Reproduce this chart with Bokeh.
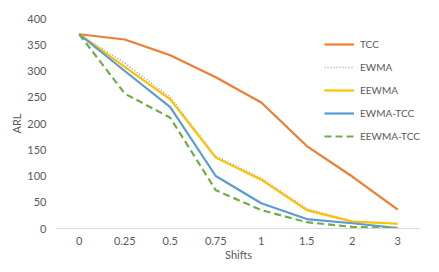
from bokeh.plotting import figure
from bokeh.models import FactorRange, Range1d, Legend, LegendItem, FixedTicker
from bokeh.embed import file_html
from bokeh.resources import INLINE

shifts = ["0", "0.25", "0.5", "0.75", "1", "1.5", "2", "3"]
tcc = [370, 360, 330, 288, 240, 157, 99, 36]
ewma = [370, 315, 250, 138, 96, 38, 14, 9]
eewma = [370, 308, 246, 135, 93, 35, 13, 9]
ewma_tcc = [370, 300, 231, 100, 48, 18, 10, 1]
eewma_tcc = [370, 257, 211, 73, 35, 12, 3, 1]

series = [
    ("TCC", tcc, "#ED7D31", "solid", 2.2),
    ("EWMA", ewma, "#A5A5A5", "1 2", 1.6),
    ("EEWMA", eewma, "#FFC000", "solid", 2.2),
    ("EWMA-TCC", ewma_tcc, "#5B9BD5", "solid", 2.2),
    ("EEWMA-TCC", eewma_tcc, "#70AD47", "7 4", 2.2),
]

FONT = "Lato"
GREY = "#595959"

p = figure(width=439, height=272, x_range=FactorRange(*shifts, range_padding=0),
           y_range=Range1d(0, 400), output_backend="svg", toolbar_location=None,
           min_border_left=56, min_border_right=19, min_border_top=18, min_border_bottom=44)
p.outline_line_color = None
p.grid.visible = False
p.background_fill_color = "white"
p.border_fill_color = "white"

items = []
for name, vals, color, dash, w in series:
    r = p.line(shifts, vals, line_color=color, line_dash=dash, line_width=w)
    items.append(LegendItem(label=name, renderers=[r]))

legend = Legend(items=items, location=(268, 82), padding=0, margin=0, spacing=3,
                glyph_width=30, glyph_height=20, label_height=20, label_standoff=6,
                label_text_font=FONT, label_text_font_size="10px", label_text_color=GREY,
                background_fill_alpha=0, border_line_color=None)
p.add_layout(legend)

p.yaxis.ticker = FixedTicker(ticks=[0, 50, 100, 150, 200, 250, 300, 350, 400])
p.yaxis.axis_line_color = None
p.yaxis.major_tick_line_color = None
p.yaxis.minor_tick_line_color = None
p.yaxis.major_tick_out = 0
p.yaxis.major_tick_in = 0
p.yaxis.minor_tick_out = 0
p.yaxis.major_label_text_font = FONT
p.yaxis.major_label_text_font_size = "11px"
p.yaxis.major_label_text_color = GREY
p.yaxis.major_label_standoff = 10
p.yaxis.axis_label = "ARL"
p.yaxis.axis_label_text_font = FONT
p.yaxis.axis_label_text_font_size = "11px"
p.yaxis.axis_label_text_font_style = "normal"
p.yaxis.axis_label_text_color = GREY
p.yaxis.axis_label_standoff = 1

p.xaxis.axis_line_color = "#D9D9D9"
p.xaxis.axis_line_width = 1
p.xaxis.major_tick_line_color = None
p.xaxis.minor_tick_line_color = None
p.xaxis.major_tick_out = 0
p.xaxis.major_tick_in = 0
p.xaxis.minor_tick_out = 0
p.xaxis.major_label_text_font = FONT
p.xaxis.major_label_text_font_size = "11px"
p.xaxis.major_label_text_color = GREY
p.xaxis.major_label_standoff = 8
p.xaxis.axis_label = "Shifts"
p.xaxis.axis_label_text_font = FONT
p.xaxis.axis_label_text_font_size = "11px"
p.xaxis.axis_label_text_font_style = "normal"
p.xaxis.axis_label_text_color = GREY
p.xaxis.axis_label_standoff = 0

open("out.html", "w").write(file_html(p, INLINE))
